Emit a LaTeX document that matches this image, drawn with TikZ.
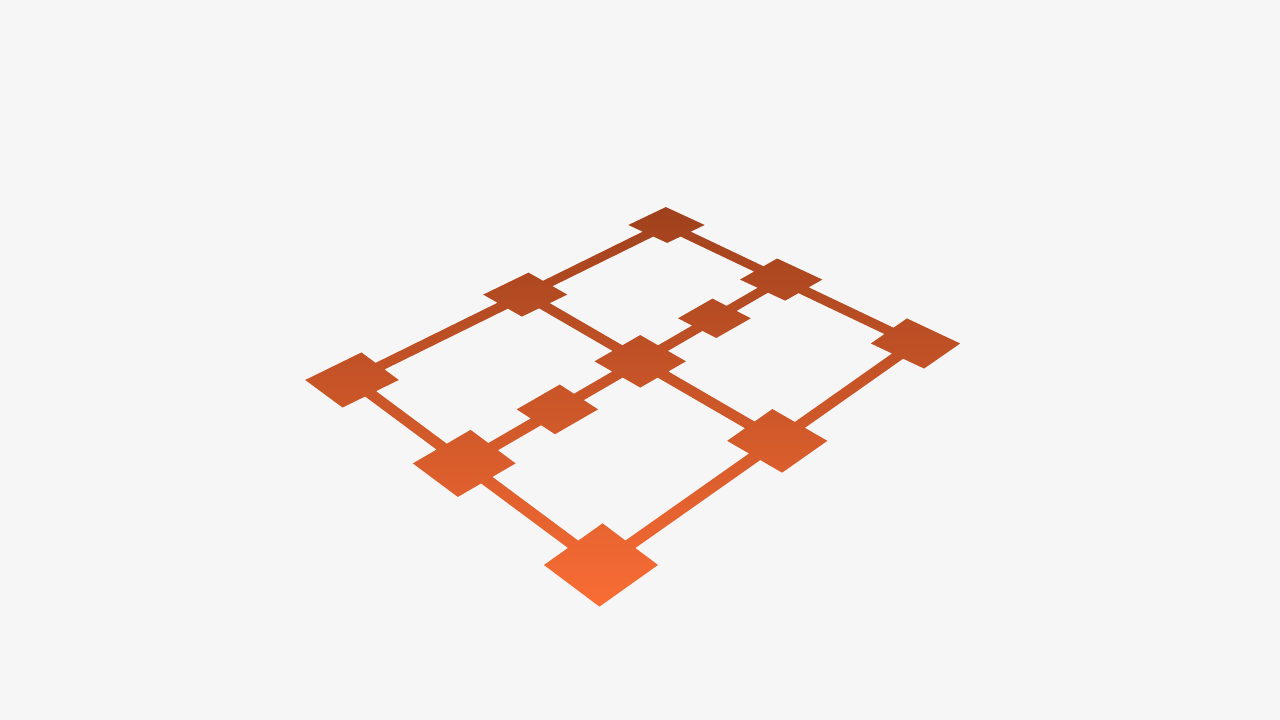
\documentclass[tikz,border=0pt]{standalone}
\usepackage{tikz}
\usetikzlibrary{calc}
\definecolor{myback}{RGB}{246,246,246}
\definecolor{myfar}{RGB}{159,65,29}
\definecolor{mynear}{RGB}{250,109,53}
\newcommand{\bigtile}{1}
\newcommand{\smalltile}{0.84}
% point (u,v) of the tilted plane, u and v from 0 to 1
\newcommand{\planept}[3]{%
  \pgfmathsetmacro\plw{-0.17916*(#2)+0.22629*(#3)+1}%
  \pgfmathsetmacro\plx{(1.4132*(#2)+4.6532*(#3)+3.52)/\plw}%
  \pgfmathsetmacro\ply{(-2.1277*(#2)+2.6701*(#3)+3.40)/\plw}%
  \coordinate (#1) at (\plx,\ply);}
% tile round a point, flatter the farther it is, leaning to (6.4,11.8)
\newcommand{\planetile}[4]{%
  \planept{#1}{#2}{#3}%
  \pgfmathsetmacro\tlx{#4*0.468/\plw}%
  \pgfmathsetmacro\tly{\tlx*(0.47+0.0765*(4.95-\ply))}%
  \pgfmathsetmacro\tlk{\tly*(6.4-\plx)/(11.8-\ply)}%
  \coordinate (#1-w) at (\plx-\tlx,\ply);
  \coordinate (#1-s) at (\plx-\tlk,\ply-\tly);
  \coordinate (#1-e) at (\plx+\tlx,\ply);
  \coordinate (#1-n) at (\plx+\tlk,\ply+\tly);}
\tikzset{
    background/.style={fill=myback},
    depth/.style={top color=myfar, bottom color=mynear}
}
\begin{document}
\begin{tikzpicture}
    \fill[background] (0,0) rectangle (12.8,7.2);
    \useasboundingbox (0,0) rectangle (12.8,7.2);

    % tiles: name/u/v/size
    \foreach \nm/\gu/\gv/\gs in {n00/0/0/\bigtile, n10/0.5/0/\bigtile, n20/1/0/\bigtile,
                                 n01/0/0.5/\bigtile, n11/0.5/0.5/\bigtile, n21/1/0.5/\bigtile,
                                 n02/0/1/\bigtile, n12/0.5/1/\bigtile, n22/1/1/\bigtile,
                                 m1/0.5/0.25/\smalltile, m2/0.5/0.75/\smalltile} {
        \planetile{\nm}{\gu}{\gv}{\gs}
    }

    \begin{scope}
        \clip
            \foreach \nm in {n00,n10,n20,n01,n11,n21,n02,n12,n22,m1,m2} {
                (\nm-w) -- (\nm-s) -- (\nm-e) -- (\nm-n) -- cycle
            }
            % bars: from/to/half width
            \foreach \ea/\eb/\hw in {n00/n01/0.049, n01/n02/0.045,
                                     n10/m1/0.055, m1/n11/0.052, n11/m2/0.049, m2/n12/0.047,
                                     n20/n21/0.059, n21/n22/0.053,
                                     n00/n10/0.054, n10/n20/0.060,
                                     n01/n11/0.049, n11/n21/0.053,
                                     n02/n12/0.044, n12/n22/0.048} {
                ($(\ea)!\hw cm!-90:(\eb)$) -- ($(\eb)!\hw cm!90:(\ea)$)
                -- ($(\eb)!\hw cm!-90:(\ea)$) -- ($(\ea)!\hw cm!90:(\eb)$) -- cycle
            };
        \shade[depth] (3,1.12) rectangle (9.8,5.13);
    \end{scope}
\end{tikzpicture}
\end{document}
